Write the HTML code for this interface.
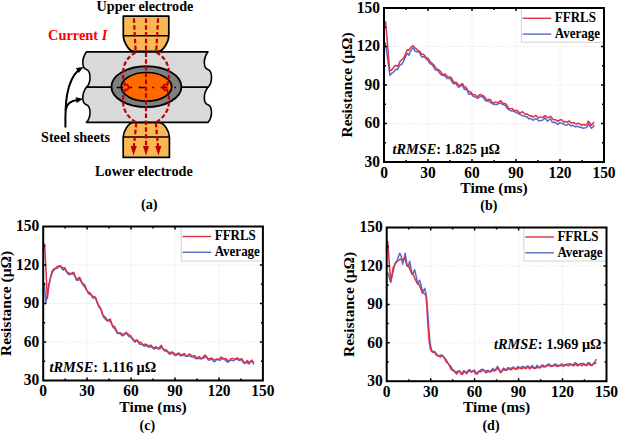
<!DOCTYPE html>
<html><head><meta charset="utf-8"><style>
html,body{margin:0;padding:0;background:#fff;width:618px;height:434px;overflow:hidden}
svg{display:block;font-family:"Liberation Serif", serif}
</style></head><body>
<svg width="618" height="434" viewBox="0 0 618 434">
<rect width="618" height="434" fill="#fff"/>
<g stroke="#dcdcdc" stroke-width="0.7" stroke-dasharray="1,1.2"><line x1="428.0" y1="8.0" x2="428.0" y2="162.0"/><line x1="472.0" y1="8.0" x2="472.0" y2="162.0"/><line x1="516.0" y1="8.0" x2="516.0" y2="162.0"/><line x1="560.0" y1="8.0" x2="560.0" y2="162.0"/><line x1="384.0" y1="123.5" x2="604.0" y2="123.5"/><line x1="384.0" y1="85.0" x2="604.0" y2="85.0"/><line x1="384.0" y1="46.5" x2="604.0" y2="46.5"/></g>
<polyline points="385.3,42.3 390.0,75.4 391.5,73.5 392.9,72.6 394.4,71.3 395.8,69.2 397.3,69.6 398.8,66.8 400.2,64.9 401.7,64.4 403.1,62.1 404.6,58.7 406.1,55.7 407.5,53.3 409.0,55.2 410.4,51.6 411.9,49.2 413.4,47.8 414.8,50.9 416.3,51.7 417.7,51.5 419.2,52.2 420.7,55.1 422.1,57.2 423.6,56.7 425.0,57.5 426.5,59.1 428.0,60.5 429.4,63.0 430.9,64.1 432.3,64.8 433.8,67.3 435.3,69.9 436.7,70.3 438.2,70.9 439.6,73.1 441.1,74.7 442.6,75.4 444.0,75.4 445.5,76.6 446.9,78.4 448.4,78.4 449.9,78.3 451.3,80.5 452.8,83.0 454.2,83.8 455.7,83.2 457.2,85.7 458.6,87.3 460.1,86.6 461.5,84.8 463.0,86.6 464.5,89.6 465.9,88.5 467.4,90.9 468.8,94.3 470.3,93.7 471.8,94.6 473.2,96.3 474.7,96.9 476.1,97.2 477.6,98.5 479.1,97.5 480.5,96.3 482.0,96.7 483.4,97.7 484.9,100.0 486.4,101.3 487.8,100.8 489.3,101.3 490.7,102.7 492.2,103.6 493.7,104.2 495.1,104.4 496.6,104.6 498.0,104.1 499.5,103.3 501.0,103.3 502.4,104.5 503.9,104.8 505.3,105.6 506.8,107.9 508.3,109.3 509.7,110.1 511.2,110.9 512.6,111.1 514.1,111.6 515.6,112.3 517.0,112.9 518.5,113.8 519.9,114.2 521.4,115.1 522.9,115.9 524.3,116.1 525.8,116.9 527.2,116.8 528.7,118.7 530.2,118.5 531.6,119.0 533.1,120.3 534.5,119.2 536.0,118.6 537.5,119.5 538.9,121.0 540.4,120.6 541.8,120.6 543.3,119.7 544.8,117.7 546.2,119.8 547.7,121.2 549.1,119.8 550.6,118.9 552.1,122.0 553.5,122.5 555.0,122.3 556.4,123.5 557.9,124.4 559.4,122.7 560.8,123.1 562.3,123.5 563.7,124.2 565.2,125.0 566.7,125.2 568.1,123.8 569.6,124.9 571.0,126.0 572.5,125.3 574.0,125.9 575.4,126.9 576.9,126.2 578.3,126.8 579.8,127.2 581.3,127.2 582.7,128.3 584.2,127.9 585.6,127.7 587.1,127.0 588.6,124.2 590.0,126.5 591.5,128.3 592.9,127.0 594.3,124.9" fill="none" stroke="#5A6BC4" stroke-width="1.5" stroke-linejoin="round"/>
<polyline points="385.6,21.3 389.7,70.9 391.2,70.3 392.6,68.9 394.1,66.3 395.5,65.3 397.0,66.3 398.5,65.1 399.9,61.5 401.4,60.0 402.8,59.0 404.3,56.7 405.8,53.2 407.2,49.8 408.7,50.3 410.1,48.5 411.6,46.8 413.1,45.7 414.5,47.7 416.0,48.7 417.4,49.8 418.9,50.8 420.4,52.5 421.8,54.3 423.3,54.3 424.7,55.6 426.2,57.8 427.7,58.0 429.1,59.9 430.6,62.1 432.0,63.2 433.5,64.5 435.0,66.6 436.4,68.6 437.9,69.5 439.3,70.2 440.8,71.8 442.3,74.2 443.7,74.4 445.2,74.1 446.6,75.8 448.1,77.1 449.6,77.0 451.0,77.5 452.5,79.8 453.9,82.7 455.4,82.2 456.9,82.8 458.3,85.0 459.8,85.8 461.2,83.9 462.7,83.8 464.2,87.1 465.6,86.9 467.1,89.2 468.5,91.6 470.0,91.6 471.5,92.8 472.9,94.9 474.4,94.4 475.8,95.4 477.3,97.0 478.8,95.4 480.2,94.5 481.7,95.1 483.1,95.7 484.6,96.9 486.1,99.2 487.5,100.0 489.0,99.3 490.4,99.7 491.9,102.0 493.4,103.3 494.8,102.3 496.3,102.2 497.7,103.0 499.2,101.9 500.7,100.7 502.1,102.2 503.6,103.8 505.0,103.4 506.5,104.6 508.0,107.4 509.4,109.1 510.9,108.6 512.3,108.6 513.8,110.1 515.3,111.0 516.7,110.2 518.2,111.4 519.6,113.1 521.1,112.4 522.6,111.7 524.0,113.3 525.5,114.6 526.9,113.8 528.4,114.8 529.9,116.1 531.3,115.6 532.8,117.1 534.2,116.5 535.7,115.4 537.2,116.8 538.6,118.0 540.1,117.0 541.5,117.4 543.0,117.2 544.5,115.7 545.9,116.0 547.4,117.7 548.8,117.6 550.3,116.3 551.8,117.8 553.2,119.6 554.7,119.8 556.1,120.0 557.6,121.2 559.1,120.5 560.5,119.6 562.0,120.0 563.4,121.9 564.9,121.6 566.4,121.7 567.8,122.0 569.3,120.9 570.7,122.7 572.2,122.9 573.7,122.4 575.1,123.6 576.6,123.9 578.0,123.2 579.5,123.9 581.0,124.9 582.4,124.7 583.9,124.5 585.3,125.3 586.8,124.6 588.3,121.1 589.7,123.0 591.2,125.5 592.6,123.8 594.1,122.3 594.3,122.2" fill="none" stroke="#DC2F48" stroke-width="1.5" stroke-linejoin="round"/>
<path d="M406.0 162.0v-2.0M406.0 8.0v2.0M428.0 162.0v-3.0M428.0 8.0v3.0M450.0 162.0v-2.0M450.0 8.0v2.0M472.0 162.0v-3.0M472.0 8.0v3.0M494.0 162.0v-2.0M494.0 8.0v2.0M516.0 162.0v-3.0M516.0 8.0v3.0M538.0 162.0v-2.0M538.0 8.0v2.0M560.0 162.0v-3.0M560.0 8.0v3.0M582.0 162.0v-2.0M582.0 8.0v2.0M384.0 142.8h2.0M604.0 142.8h-2.0M384.0 123.5h3.0M604.0 123.5h-3.0M384.0 104.2h2.0M604.0 104.2h-2.0M384.0 85.0h3.0M604.0 85.0h-3.0M384.0 65.8h2.0M604.0 65.8h-2.0M384.0 46.5h3.0M604.0 46.5h-3.0M384.0 27.2h2.0M604.0 27.2h-2.0" stroke="#000" stroke-width="1.5" fill="none"/>
<rect x="521.3" y="8.0" width="82.7" height="34.2" fill="#fff" stroke="#c8c8c8" stroke-width="0.8"/>
<line x1="522.6" y1="18.3" x2="551.3" y2="18.3" stroke="#DC2F48" stroke-width="1.4"/>
<line x1="522.6" y1="34.1" x2="551.3" y2="34.1" stroke="#5A6BC4" stroke-width="1.4"/>
<text transform="translate(554.8 22.2) scale(1 1.05)" font-size="13" font-weight="bold">FFRLS</text>
<text transform="translate(554.8 37.8) scale(1 1.05)" font-size="13" font-weight="bold">Average</text>
<rect x="384.0" y="8.0" width="220.0" height="154.0" fill="none" stroke="#000" stroke-width="2"/>
<text transform="translate(384.0 177.8) scale(1 1.05)" font-size="15.5" font-weight="bold" text-anchor="middle">0</text>
<text transform="translate(428.0 177.8) scale(1 1.05)" font-size="15.5" font-weight="bold" text-anchor="middle">30</text>
<text transform="translate(472.0 177.8) scale(1 1.05)" font-size="15.5" font-weight="bold" text-anchor="middle">60</text>
<text transform="translate(516.0 177.8) scale(1 1.05)" font-size="15.5" font-weight="bold" text-anchor="middle">90</text>
<text transform="translate(560.0 177.8) scale(1 1.05)" font-size="15.5" font-weight="bold" text-anchor="middle">120</text>
<text transform="translate(604.0 177.8) scale(1 1.05)" font-size="15.5" font-weight="bold" text-anchor="middle">150</text>
<text transform="translate(380.0 166.8) scale(1 1.05)" font-size="15.5" font-weight="bold" text-anchor="end">30</text>
<text transform="translate(380.0 128.3) scale(1 1.05)" font-size="15.5" font-weight="bold" text-anchor="end">60</text>
<text transform="translate(380.0 89.8) scale(1 1.05)" font-size="15.5" font-weight="bold" text-anchor="end">90</text>
<text transform="translate(380.0 51.3) scale(1 1.05)" font-size="15.5" font-weight="bold" text-anchor="end">120</text>
<text transform="translate(380.0 12.8) scale(1 1.05)" font-size="15.5" font-weight="bold" text-anchor="end">150</text>
<text x="494.0" y="193.0" font-size="15.5" font-weight="bold" text-anchor="middle">Time (ms)</text>
<text transform="translate(351.7 85.0) rotate(-90)" font-size="15.5" font-weight="bold" text-anchor="middle">Resistance (μΩ)</text>
<text x="488.8" y="209.5" font-size="14" font-weight="bold" text-anchor="middle">(b)</text>
<text x="392.6" y="154.0" font-size="14.3" font-weight="bold"><tspan font-style="italic">tRMSE</tspan>: 1.825 μΩ</text>
<g stroke="#dcdcdc" stroke-width="0.7" stroke-dasharray="1,1.2"><line x1="87.1" y1="226.5" x2="87.1" y2="380.5"/><line x1="131.1" y1="226.5" x2="131.1" y2="380.5"/><line x1="175.0" y1="226.5" x2="175.0" y2="380.5"/><line x1="219.0" y1="226.5" x2="219.0" y2="380.5"/><line x1="43.2" y1="342.0" x2="262.9" y2="342.0"/><line x1="43.2" y1="303.5" x2="262.9" y2="303.5"/><line x1="43.2" y1="265.0" x2="262.9" y2="265.0"/></g>
<polyline points="44.3,282.2 45.8,303.4 49.0,284.6 50.5,278.4 51.9,273.4 53.4,270.9 54.8,269.0 56.3,268.4 57.8,268.1 59.2,266.6 60.7,266.6 62.1,269.0 63.6,270.1 65.1,268.5 66.5,271.6 68.0,274.1 69.4,274.8 70.9,273.9 72.4,273.7 73.8,274.6 75.3,277.1 76.7,280.2 78.2,280.2 79.7,278.9 81.1,281.7 82.6,284.1 84.0,286.0 85.5,288.3 87.0,290.7 88.4,293.5 89.9,294.4 91.3,295.2 92.8,298.0 94.3,298.1 95.7,298.6 97.2,302.8 98.6,306.4 100.1,308.2 101.6,311.5 103.0,316.1 104.5,318.3 105.9,319.8 107.4,320.9 108.9,320.7 110.3,321.0 111.8,324.4 113.2,327.4 114.7,328.7 116.2,331.4 117.6,333.6 119.1,333.1 120.5,334.3 122.0,335.7 123.5,335.6 124.9,334.0 126.4,333.1 127.8,335.2 129.3,336.8 130.8,337.0 132.2,338.6 133.7,341.0 135.1,342.2 136.6,340.2 138.1,341.9 139.5,344.3 141.0,344.3 142.4,344.7 143.9,345.9 145.4,345.7 146.8,345.6 148.3,347.0 149.7,347.4 151.2,346.3 152.7,347.8 154.1,349.2 155.6,348.0 157.0,348.2 158.5,349.1 160.0,348.7 161.4,346.9 162.9,348.9 164.3,350.9 165.8,351.3 167.3,351.4 168.7,353.5 170.2,354.4 171.6,353.2 173.1,353.2 174.6,355.3 176.0,355.5 177.5,354.3 178.9,354.4 180.4,355.8 181.9,355.6 183.3,355.3 184.8,355.4 186.2,356.2 187.7,356.3 189.2,355.9 190.6,356.3 192.1,356.8 193.5,356.9 195.0,358.1 196.5,358.8 197.9,358.4 199.4,358.3 200.8,359.1 202.3,358.4 203.8,358.1 205.2,356.7 206.7,357.1 208.1,359.8 209.6,360.2 211.1,358.5 212.5,359.9 214.0,361.7 215.4,361.1 216.9,359.3 218.4,359.9 219.8,360.5 221.3,358.9 222.7,358.5 224.2,359.3 225.7,360.4 227.1,362.0 228.6,361.9 230.0,359.9 231.5,360.2 233.0,360.7 234.4,360.1 235.9,359.3 237.3,359.2 238.8,360.5 240.3,359.9 241.7,359.9 243.2,362.5 244.6,363.4 246.1,362.2 247.6,363.0 249.0,363.9 250.5,362.1 251.9,360.7 253.4,363.7 254.1,364.1" fill="none" stroke="#5A6BC4" stroke-width="1.5" stroke-linejoin="round"/>
<polyline points="44.6,243.5 47.4,298.5 48.9,284.7 50.3,278.1 51.8,271.8 53.2,269.8 54.7,268.6 56.2,267.5 57.6,266.3 59.1,266.0 60.5,265.7 62.0,267.3 63.5,268.2 64.9,267.7 66.4,271.3 67.8,272.4 69.3,273.2 70.8,273.6 72.2,272.9 73.7,272.3 75.1,276.0 76.6,279.7 78.1,278.4 79.5,277.2 81.0,280.2 82.4,283.6 83.9,284.0 85.4,286.4 86.8,290.1 88.3,292.1 89.7,292.5 91.2,294.7 92.7,296.8 94.1,296.6 95.6,297.4 97.0,301.6 98.5,304.9 100.0,307.1 101.4,310.3 102.9,315.1 104.3,316.3 105.8,317.7 107.3,320.4 108.7,320.1 110.2,319.0 111.6,323.2 113.1,326.6 114.6,326.6 116.0,329.5 117.5,332.8 118.9,332.9 120.4,332.9 121.9,333.9 123.3,334.2 124.8,333.4 126.2,332.5 127.7,333.9 129.2,334.9 130.6,335.6 132.1,337.8 133.5,339.8 135.0,340.7 136.5,339.9 137.9,340.6 139.4,342.9 140.8,342.2 142.3,344.1 143.8,345.4 145.2,344.0 146.7,344.6 148.1,346.2 149.6,345.5 151.1,345.3 152.5,347.3 154.0,348.0 155.4,346.8 156.9,347.3 158.4,348.8 159.8,347.0 161.3,345.3 162.7,348.2 164.2,349.7 165.7,349.6 167.1,350.7 168.6,352.4 170.0,352.5 171.5,352.1 173.0,352.3 174.4,353.6 175.9,354.7 177.3,353.6 178.8,353.0 180.3,354.4 181.7,355.2 183.2,353.9 184.6,353.6 186.1,355.8 187.6,355.4 189.0,353.9 190.5,354.7 191.9,356.7 193.4,355.8 194.9,355.7 196.3,357.8 197.8,357.7 199.2,356.6 200.7,358.1 202.2,358.3 203.6,356.4 205.1,355.0 206.5,356.7 208.0,358.6 209.5,358.8 210.9,358.1 212.4,358.5 213.8,360.0 215.3,359.6 216.8,358.9 218.2,359.4 219.7,358.7 221.1,357.1 222.6,358.2 224.1,358.9 225.5,358.4 227.0,359.6 228.4,361.7 229.9,360.1 231.4,358.4 232.8,358.6 234.3,359.1 235.7,358.7 237.2,358.0 238.7,358.9 240.1,359.2 241.6,358.7 243.0,360.9 244.5,362.9 246.0,362.0 247.4,360.6 248.9,362.4 250.3,361.6 251.8,360.1 253.3,362.1 254.1,362.4" fill="none" stroke="#DC2F48" stroke-width="1.5" stroke-linejoin="round"/>
<path d="M65.2 380.5v-2.0M65.2 226.5v2.0M87.1 380.5v-3.0M87.1 226.5v3.0M109.1 380.5v-2.0M109.1 226.5v2.0M131.1 380.5v-3.0M131.1 226.5v3.0M153.1 380.5v-2.0M153.1 226.5v2.0M175.0 380.5v-3.0M175.0 226.5v3.0M197.0 380.5v-2.0M197.0 226.5v2.0M219.0 380.5v-3.0M219.0 226.5v3.0M240.9 380.5v-2.0M240.9 226.5v2.0M43.2 361.2h2.0M262.9 361.2h-2.0M43.2 342.0h3.0M262.9 342.0h-3.0M43.2 322.8h2.0M262.9 322.8h-2.0M43.2 303.5h3.0M262.9 303.5h-3.0M43.2 284.2h2.0M262.9 284.2h-2.0M43.2 265.0h3.0M262.9 265.0h-3.0M43.2 245.8h2.0M262.9 245.8h-2.0" stroke="#000" stroke-width="1.5" fill="none"/>
<rect x="181.2" y="226.5" width="81.7" height="34.5" fill="#fff" stroke="#c8c8c8" stroke-width="0.8"/>
<line x1="182.5" y1="236.5" x2="211.2" y2="236.5" stroke="#DC2F48" stroke-width="1.4"/>
<line x1="182.5" y1="252.3" x2="211.2" y2="252.3" stroke="#5A6BC4" stroke-width="1.4"/>
<text transform="translate(214.7 240.4) scale(1 1.05)" font-size="13" font-weight="bold">FFRLS</text>
<text transform="translate(214.7 256.0) scale(1 1.05)" font-size="13" font-weight="bold">Average</text>
<rect x="43.2" y="226.5" width="219.7" height="154.0" fill="none" stroke="#000" stroke-width="2"/>
<text transform="translate(43.2 396.3) scale(1 1.05)" font-size="15.5" font-weight="bold" text-anchor="middle">0</text>
<text transform="translate(87.1 396.3) scale(1 1.05)" font-size="15.5" font-weight="bold" text-anchor="middle">30</text>
<text transform="translate(131.1 396.3) scale(1 1.05)" font-size="15.5" font-weight="bold" text-anchor="middle">60</text>
<text transform="translate(175.0 396.3) scale(1 1.05)" font-size="15.5" font-weight="bold" text-anchor="middle">90</text>
<text transform="translate(219.0 396.3) scale(1 1.05)" font-size="15.5" font-weight="bold" text-anchor="middle">120</text>
<text transform="translate(262.9 396.3) scale(1 1.05)" font-size="15.5" font-weight="bold" text-anchor="middle">150</text>
<text transform="translate(39.2 385.3) scale(1 1.05)" font-size="15.5" font-weight="bold" text-anchor="end">30</text>
<text transform="translate(39.2 346.8) scale(1 1.05)" font-size="15.5" font-weight="bold" text-anchor="end">60</text>
<text transform="translate(39.2 308.3) scale(1 1.05)" font-size="15.5" font-weight="bold" text-anchor="end">90</text>
<text transform="translate(39.2 269.8) scale(1 1.05)" font-size="15.5" font-weight="bold" text-anchor="end">120</text>
<text transform="translate(39.2 231.3) scale(1 1.05)" font-size="15.5" font-weight="bold" text-anchor="end">150</text>
<text x="153.0" y="411.5" font-size="15.5" font-weight="bold" text-anchor="middle">Time (ms)</text>
<text transform="translate(10.9 303.5) rotate(-90)" font-size="15.5" font-weight="bold" text-anchor="middle">Resistance (μΩ)</text>
<text x="147.3" y="430.3" font-size="14" font-weight="bold" text-anchor="middle">(c)</text>
<text x="49.6" y="371.6" font-size="14.3" font-weight="bold"><tspan font-style="italic">tRMSE</tspan>: 1.116 μΩ</text>
<g stroke="#dcdcdc" stroke-width="0.7" stroke-dasharray="1,1.2"><line x1="430.7" y1="227.5" x2="430.7" y2="381.2"/><line x1="474.6" y1="227.5" x2="474.6" y2="381.2"/><line x1="518.6" y1="227.5" x2="518.6" y2="381.2"/><line x1="562.5" y1="227.5" x2="562.5" y2="381.2"/><line x1="386.7" y1="342.8" x2="606.5" y2="342.8"/><line x1="386.7" y1="304.4" x2="606.5" y2="304.4"/><line x1="386.7" y1="265.9" x2="606.5" y2="265.9"/></g>
<polyline points="388.0,272.7 390.7,282.4 394.0,267.5 395.2,263.0 397.0,260.7 399.7,253.2 401.2,256.2 402.7,264.2 405.2,253.2 407.2,266.0 408.2,266.7 409.7,261.2 411.6,272.0 413.1,273.4 414.6,269.7 416.4,277.2 417.6,283.9 419.7,280.2 421.7,287.7 422.7,292.9 424.7,288.4 426.2,294.4 427.2,304.9 428.4,322.0 429.5,338.0 430.3,344.0 431.2,348.6 431.8,350.2 433.3,352.3 434.7,351.5 436.2,353.6 437.6,355.5 439.1,355.6 440.6,355.2 442.0,355.0 443.5,356.7 444.9,358.1 446.4,360.0 447.9,363.2 449.3,364.8 450.8,366.4 452.2,368.9 453.7,370.8 455.2,371.5 456.6,372.2 458.1,371.1 459.5,370.9 461.0,373.0 462.5,372.4 463.9,370.6 465.4,372.2 466.8,372.2 468.3,370.1 469.8,369.7 471.2,371.9 472.7,371.0 474.1,370.0 475.6,372.0 477.1,373.5 478.5,371.8 480.0,370.5 481.4,369.4 482.9,369.3 484.4,370.7 485.8,371.2 487.3,370.3 488.7,370.8 490.2,371.6 491.7,369.8 493.1,368.3 494.6,370.7 496.0,369.0 497.5,366.3 499.0,368.8 500.4,372.0 501.9,370.8 503.3,368.1 504.8,368.9 506.3,369.9 507.7,367.8 509.2,367.8 510.6,369.6 512.1,367.4 513.6,366.9 515.0,368.9 516.5,368.1 517.9,366.5 519.4,367.7 520.9,367.6 522.3,366.3 523.8,367.3 525.2,367.8 526.7,366.3 528.2,365.9 529.6,368.7 531.1,366.4 532.5,365.6 534.0,367.6 535.5,368.1 536.9,365.3 538.4,366.6 539.8,367.8 541.3,365.5 542.8,364.9 544.2,366.1 545.7,366.3 547.1,364.8 548.6,363.9 550.1,365.0 551.5,365.9 553.0,365.5 554.4,364.2 555.9,364.2 557.4,365.4 558.8,365.7 560.3,364.6 561.7,363.9 563.2,364.7 564.7,365.3 566.1,364.4 567.6,363.9 569.0,363.9 570.5,364.0 572.0,364.9 573.4,364.8 574.9,362.7 576.3,363.3 577.8,365.1 579.3,364.4 580.7,363.7 582.2,363.4 583.6,363.5 585.1,364.7 586.6,364.5 588.0,362.8 589.5,362.7 590.9,364.7 592.4,365.0 593.9,362.8 595.3,361.2 596.4,359.1" fill="none" stroke="#5A6BC4" stroke-width="1.5" stroke-linejoin="round"/>
<polyline points="387.6,240.7 390.7,281.7 393.2,267.5 394.7,264.5 397.0,261.5 399.2,260.0 401.5,258.8 403.0,260.0 404.8,258.2 406.0,262.2 407.2,266.0 409.0,266.7 410.4,270.4 412.0,274.2 413.4,275.0 414.9,278.7 417.2,283.2 419.1,284.7 420.9,289.2 422.4,292.9 424.7,293.7 426.0,296.0 426.8,305.0 427.9,325.0 429.2,342.0 430.5,349.4 431.8,351.6 433.3,352.3 434.7,352.5 436.2,354.8 437.6,355.9 439.1,356.4 440.6,357.1 442.0,355.5 443.5,356.6 444.9,359.5 446.4,362.1 447.9,363.2 449.3,365.1 450.8,368.7 452.2,370.3 453.7,370.5 455.2,372.5 456.6,374.0 458.1,371.8 459.5,371.0 461.0,373.9 462.5,374.5 463.9,371.1 465.4,372.5 466.8,373.7 468.3,371.5 469.8,370.6 471.2,372.1 472.7,371.4 474.1,371.3 475.6,374.0 477.1,374.1 478.5,371.6 480.0,371.7 481.4,371.6 482.9,369.9 484.4,370.7 485.8,372.7 487.3,372.0 488.7,371.3 490.2,372.1 491.7,371.0 493.1,370.1 494.6,371.0 496.0,370.0 497.5,368.2 499.0,369.8 500.4,372.7 501.9,371.4 503.3,369.6 504.8,370.3 506.3,370.3 507.7,369.4 509.2,368.7 510.6,369.7 512.1,369.3 513.6,368.0 515.0,368.8 516.5,369.3 517.9,368.6 519.4,367.3 520.9,368.5 522.3,368.8 523.8,366.8 525.2,368.6 526.7,368.1 528.2,366.9 529.6,368.9 531.1,367.6 532.5,367.3 534.0,368.3 535.5,368.4 536.9,367.0 538.4,367.8 539.8,367.8 541.3,366.7 542.8,366.4 544.2,367.0 545.7,366.8 547.1,365.8 548.6,365.4 550.1,366.2 551.5,366.4 553.0,366.0 554.4,365.3 555.9,365.8 557.4,366.5 558.8,366.1 560.3,365.3 561.7,365.6 563.2,366.2 564.7,365.8 566.1,364.5 567.6,365.6 569.0,365.8 570.5,364.1 572.0,364.8 573.4,365.9 574.9,364.2 576.3,365.0 577.8,365.9 579.3,364.1 580.7,365.1 582.2,365.8 583.6,364.0 585.1,365.3 586.6,365.4 588.0,364.6 589.5,364.3 590.9,365.6 592.4,365.1 593.9,363.5 595.3,363.6 596.4,362.4" fill="none" stroke="#DC2F48" stroke-width="1.5" stroke-linejoin="round"/>
<path d="M408.7 381.2v-2.0M408.7 227.5v2.0M430.7 381.2v-3.0M430.7 227.5v3.0M452.6 381.2v-2.0M452.6 227.5v2.0M474.6 381.2v-3.0M474.6 227.5v3.0M496.6 381.2v-2.0M496.6 227.5v2.0M518.6 381.2v-3.0M518.6 227.5v3.0M540.6 381.2v-2.0M540.6 227.5v2.0M562.5 381.2v-3.0M562.5 227.5v3.0M584.5 381.2v-2.0M584.5 227.5v2.0M386.7 362.0h2.0M606.5 362.0h-2.0M386.7 342.8h3.0M606.5 342.8h-3.0M386.7 323.6h2.0M606.5 323.6h-2.0M386.7 304.4h3.0M606.5 304.4h-3.0M386.7 285.1h2.0M606.5 285.1h-2.0M386.7 265.9h3.0M606.5 265.9h-3.0M386.7 246.7h2.0M606.5 246.7h-2.0" stroke="#000" stroke-width="1.5" fill="none"/>
<rect x="523.9" y="227.5" width="82.6" height="33.5" fill="#fff" stroke="#c8c8c8" stroke-width="0.8"/>
<line x1="525.2" y1="237.0" x2="553.9" y2="237.0" stroke="#DC2F48" stroke-width="1.4"/>
<line x1="525.2" y1="252.8" x2="553.9" y2="252.8" stroke="#5A6BC4" stroke-width="1.4"/>
<text transform="translate(557.4 240.9) scale(1 1.05)" font-size="13" font-weight="bold">FFRLS</text>
<text transform="translate(557.4 256.5) scale(1 1.05)" font-size="13" font-weight="bold">Average</text>
<rect x="386.7" y="227.5" width="219.8" height="153.7" fill="none" stroke="#000" stroke-width="2"/>
<text transform="translate(386.7 397.0) scale(1 1.05)" font-size="15.5" font-weight="bold" text-anchor="middle">0</text>
<text transform="translate(430.7 397.0) scale(1 1.05)" font-size="15.5" font-weight="bold" text-anchor="middle">30</text>
<text transform="translate(474.6 397.0) scale(1 1.05)" font-size="15.5" font-weight="bold" text-anchor="middle">60</text>
<text transform="translate(518.6 397.0) scale(1 1.05)" font-size="15.5" font-weight="bold" text-anchor="middle">90</text>
<text transform="translate(562.5 397.0) scale(1 1.05)" font-size="15.5" font-weight="bold" text-anchor="middle">120</text>
<text transform="translate(606.5 397.0) scale(1 1.05)" font-size="15.5" font-weight="bold" text-anchor="middle">150</text>
<text transform="translate(382.7 386.0) scale(1 1.05)" font-size="15.5" font-weight="bold" text-anchor="end">30</text>
<text transform="translate(382.7 347.6) scale(1 1.05)" font-size="15.5" font-weight="bold" text-anchor="end">60</text>
<text transform="translate(382.7 309.2) scale(1 1.05)" font-size="15.5" font-weight="bold" text-anchor="end">90</text>
<text transform="translate(382.7 270.7) scale(1 1.05)" font-size="15.5" font-weight="bold" text-anchor="end">120</text>
<text transform="translate(382.7 232.3) scale(1 1.05)" font-size="15.5" font-weight="bold" text-anchor="end">150</text>
<text x="496.6" y="412.2" font-size="15.5" font-weight="bold" text-anchor="middle">Time (ms)</text>
<text transform="translate(354.4 304.4) rotate(-90)" font-size="15.5" font-weight="bold" text-anchor="middle">Resistance (μΩ)</text>
<text x="491.0" y="430.3" font-size="14" font-weight="bold" text-anchor="middle">(d)</text>
<text x="494.1" y="349" font-size="14.3" font-weight="bold"><tspan font-style="italic">tRMSE</tspan>: 1.969 μΩ</text>
<g id="diag">
<path d="M 86.4 51.9 L 207.9 51.9 C 203.10 58.38 203.10 67.83 207.90 69.60 C 212.70 71.37 212.70 82.70 207.90 87.30 L 86.4 87.3 C 91.20 82.70 91.20 71.37 86.40 69.60 C 81.60 67.83 81.60 58.38 86.40 51.90 Z" fill="#D9D9D9" stroke="#000" stroke-width="1.6" stroke-linejoin="round"/>
<path d="M 86.4 87.3 L 207.9 87.3 C 203.10 93.72 203.10 103.09 207.90 104.85 C 212.70 106.61 212.70 117.84 207.90 122.40 L 86.4 122.4 C 91.20 117.84 91.20 106.61 86.40 104.85 C 81.60 103.09 81.60 93.72 86.40 87.30 Z" fill="#D9D9D9" stroke="#000" stroke-width="1.6" stroke-linejoin="round"/>
<ellipse cx="146.4" cy="86.7" rx="35" ry="20.4" fill="#7F7F7F" stroke="#000" stroke-width="1.9"/>
<ellipse cx="146.5" cy="86.8" rx="25.2" ry="14.3" fill="#FF6A00" stroke="#000" stroke-width="1.7"/>
<line x1="116.7" y1="87.4" x2="178" y2="87.4" stroke="#000" stroke-width="1.5" stroke-dasharray="6.5,7.2,1.6,6.7"/>
<path d="M123.3 16.1 V35.8 C123.3 41 128.5 51.4 133.6 51.4 H158.5 C163.6 51.4 168.8 41 168.8 35.8 V16.1 Z" fill="#FAB855" stroke="#000" stroke-width="1.7" stroke-linejoin="round"/>
<line x1="123.3" y1="35.8" x2="168.8" y2="35.8" stroke="#000" stroke-width="1.5"/>
<path d="M123.2 157.4 V137 C123.2 131.8 128.3 122.6 133.2 122.6 H159.4 C164.3 122.6 169.4 131.8 169.4 137 V157.4 Z" fill="#FAB855" stroke="#000" stroke-width="1.7" stroke-linejoin="round"/>
<line x1="123.2" y1="136.9" x2="169.4" y2="136.9" stroke="#000" stroke-width="1.5"/>
<g fill="none" stroke="#C00000" stroke-width="2.2" stroke-dasharray="4.5,2.3">
<path d="M133.9 18.4 L135.7 52"/>
<path d="M158.1 18.4 L156.2 52"/>
<path d="M146 18.4 L146 148"/>
<path d="M135.7 52.3 C128.5 56.5 123.0 63.0 123.0 73.5 C123.0 79.0 124.2 83.5 125.4 86.2"/>
<path d="M125.4 88.6 C124.2 91.3 123.0 95.5 123.0 101.0 C123.0 111.0 128.5 117.7 136.3 122.5"/>
<path d="M156.3 52.3 C163.5 56.5 169.0 63.0 169.0 73.5 C169.0 79.0 167.8 83.5 166.6 86.2"/>
<path d="M166.6 88.6 C167.8 91.3 169.0 95.5 169.0 101.0 C169.0 111.0 163.5 117.7 155.7 122.5"/>
<path d="M136.3 122.8 L133.8 147"/>
<path d="M155.8 122.8 L158.1 147"/>
</g>
<g fill="#C00000">
<path d="M130.6 146 L136.8 146 L133.5 155.5 Z"/>
<path d="M142.9 146 L149.1 146 L146 155.5 Z"/>
<path d="M155.2 146 L161.4 146 L158.4 155.5 Z"/>
</g>
<path d="M126.3 83.8 L129.3 87.3 L126.3 90.8 M165.3 83.8 L162.3 87.3 L165.3 90.8" fill="none" stroke="#C00000" stroke-width="1.9"/>
<path d="M65.4 127.5 C65.2 105 65.5 82 79 69.5" fill="none" stroke="#000" stroke-width="2"/>
<path d="M65.6 110 C66.5 104 71 100.5 78 100" fill="none" stroke="#000" stroke-width="2"/>
<path d="M83.6 67 L76 67.9 L78.8 72.9 Z" fill="#000"/>
<path d="M83.2 98.8 L75.6 97.3 L76.7 103.1 Z" fill="#000"/>
<text x="145" y="10.8" font-size="14.2" font-weight="bold" text-anchor="middle">Upper electrode</text>
<text x="48" y="39.7" font-size="14.4" font-weight="bold" fill="#FF0000">Current <tspan font-style="italic">I</tspan></text>
<text x="41" y="142.4" font-size="14.2" font-weight="bold">Steel sheets</text>
<text x="143.9" y="175.9" font-size="14.2" font-weight="bold" text-anchor="middle">Lower electrode</text>
<text x="149.3" y="209.2" font-size="14.3" font-weight="bold" text-anchor="middle">(a)</text>
</g>
</svg>
</body></html>
